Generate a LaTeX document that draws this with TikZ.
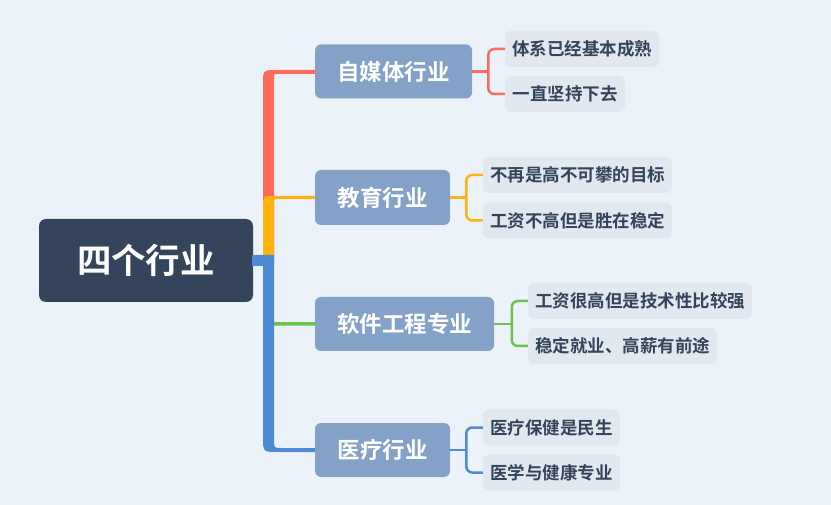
\documentclass[tikz,border=0pt]{standalone}
\usepackage{fontspec}
\newfontfamily\cjk{Noto Sans CJK SC}[BoldFont={Noto Sans CJK SC Bold}]
\usetikzlibrary{calc}
\definecolor{bgc}{HTML}{EBF2F9}
\definecolor{rootc}{HTML}{34445A}
\definecolor{branchc}{HTML}{84A1C8}
\definecolor{leafc}{HTML}{E2E8F0}
\definecolor{textc}{HTML}{34445A}
\definecolor{cR}{HTML}{FF6B5A}
\definecolor{cO}{HTML}{FFB30F}
\definecolor{cG}{HTML}{6CC24A}
\definecolor{cB}{HTML}{4E8AD6}
\tikzset{
  rootbox/.style={fill=rootc, rounded corners=7pt, text=white, inner sep=0pt,
    font=\cjk\bfseries\fontsize{34.5}{40}\selectfont, minimum width=214pt, minimum height=83pt,
    text height=30pt, text depth=4pt},
  branchbox/.style={fill=branchc, rounded corners=6pt, text=white, inner sep=0pt,
    font=\cjk\bfseries\fontsize{22.5}{26}\selectfont, minimum height=54pt,
    text height=19.8pt, text depth=2.7pt},
  leafbox/.style={fill=leafc, rounded corners=6pt, text=textc, inner sep=0pt,
    font=\cjk\bfseries\fontsize{17.5}{20}\selectfont, minimum height=36pt,
    text height=15.4pt, text depth=2.1pt},
  brk/.style={line width=2.5pt, rounded corners=6pt},
}
\begin{document}
\begin{tikzpicture}[x=1pt,y=-1pt]
\fill[bgc] (0,0) rectangle (831,505);
\useasboundingbox (0,0) rectangle (831,505);

% nodes
\node[rootbox] (root) at (146,260.5) {四个行业};
\node[branchbox, minimum width=157pt] (b1) at (393.5,71.5) {自媒体行业};
\node[branchbox, minimum width=135pt, minimum height=55pt] (b2) at (382.5,197.5) {教育行业};
\node[branchbox, minimum width=179pt] (b3) at (404.5,324) {软件工程专业};
\node[branchbox, minimum width=135pt] (b4) at (382.5,450) {医疗行业};

\node[leafbox, minimum width=154pt] (l11) at (582,49) {体系已经基本成熟};
\node[leafbox, minimum width=120pt] (l12) at (565,94) {一直坚持下去};
\node[leafbox, minimum width=189pt] (l21) at (577.5,175) {不再是高不可攀的目标};
\node[leafbox, minimum width=189pt] (l22) at (577.5,220.5) {工资不高但是胜在稳定};
\node[leafbox, minimum width=224pt] (l31) at (640,301) {工资很高但是技术性比较强};
\node[leafbox, minimum width=189pt] (l32) at (622.5,346) {稳定就业、高薪有前途};
\node[leafbox, minimum width=137pt] (l41) at (551.5,427.5) {医疗保健是民生};
\node[leafbox, minimum width=137pt] (l42) at (551.5,472.5) {医学与健康专业};

% trunk connectors
\fill[cR] (263,262) -- (263,84) .. controls (263,70) .. (277,70)
  -- ($(b1.west)+(0,-1.5)$) -- ($(b1.west)+(0,2.5)$)
  -- (278,74) .. controls (274,74) .. (274,78) -- (274,262) -- cycle;
\fill[cO] (263,262) -- (263,208) .. controls (263,196) .. (275,196)
  -- ($(b2.west)+(0,-1.5)$) -- ($(b2.west)+(0,1.5)$)
  -- (278,199) .. controls (274,199) .. (274,203) -- (274,262) -- cycle;
\draw[cG, line width=3.5pt] (272,262) -- (272,317) .. controls (272,324) .. (279,324) -- (b3.west);
\fill[cB] ($(root.east)+(-1,-5.5)$) -- (274,255) -- (274,440) .. controls (274,448) .. (282,448)
  -- ($(b4.west)+(0,-2)$) -- ($(b4.west)+(0,2)$)
  -- (278,452) .. controls (263,452) .. (263,437) -- (263,266)
  -- ($(root.east)+(-1,5.5)$) -- cycle;

% brackets
\coordinate (k1) at ($(l11.west)+(-16.5,0)$);
\coordinate (k2) at ($(l21.west)+(-16.5,0)$);
\coordinate (k3) at ($(l31.west)+(-16,0)$);
\coordinate (k4) at ($(l41.west)+(-16.5,0)$);
\draw[brk, cR] (l11.west) -- (k1) -- (k1 |- l12.west) -- (l12.west);
\draw[cR, line width=2.5pt] (b1.east) -- (k1 |- b1.east);
\draw[brk, cO] (l21.west) -- (k2) -- (k2 |- l22.west) -- (l22.west);
\draw[cO, line width=2.5pt] (b2.east) -- (k2 |- b2.east);
\draw[brk, cG] (l31.west) -- (k3) -- (k3 |- l32.west) -- (l32.west);
\draw[cG, line width=2.5pt] (b3.east) -- (k3 |- b3.east);
\draw[brk, cB] (l41.west) -- (k4) -- (k4 |- l42.west) -- (l42.west);
\draw[cB, line width=2.5pt] (b4.east) -- (k4 |- b4.east);
\end{tikzpicture}
\end{document}
